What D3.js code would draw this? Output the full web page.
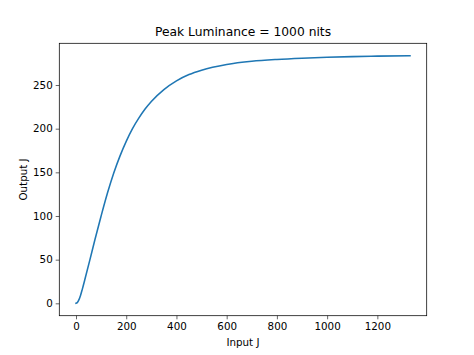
<!DOCTYPE html>
<html>
<head>
<meta charset="utf-8">
<script src="https://cdn.jsdelivr.net/npm/d3@7/dist/d3.min.js"></script>
<style>
  html, body { margin: 0; padding: 0; background: #fff; }
  svg { display: block; font-family: "DejaVu Sans", sans-serif; }
</style>
</head>
<body>
<script>
const title = "Peak Luminance = 1000 nits";
const xLabel = "Input J";
const yLabel = "Output J";
const inputJ  = [0, 5, 10, 18, 25, 35, 55, 75, 100, 125, 150, 175, 200, 225, 250, 275, 300, 350, 400, 450, 500, 600, 700, 800, 900, 1000, 1100, 1200, 1330];
const outputJ = [0, 0.8, 3, 9, 16, 27, 49.5, 72.5, 100, 126, 149, 168.6, 185.5, 200, 212, 222.5, 231.2, 244.8, 254.8, 262, 267, 273.5, 277.2, 279.3, 280.7, 281.7, 282.5, 283.1, 283.6];
const xTicks = [0, 200, 400, 600, 800, 1000, 1200];
const yTicks = [0, 50, 100, 150, 200, 250];

const W = 474, H = 355;
const m = {left: 59.3, right: 474 - 426.7, top: 43.3, bottom: 355 - 315.7};

const svg = d3.select("body").append("svg").attr("width", W).attr("height", H);

const xMin = d3.min(inputJ), xMax = d3.max(inputJ);
const yMin = d3.min(outputJ), yMax = d3.max(outputJ);
const xPad = (xMax - xMin) * 0.05, yPad = (yMax - yMin) * 0.05;

const x = d3.scaleLinear().domain([xMin - xPad, xMax + xPad]).range([m.left, W - m.right]);
const y = d3.scaleLinear().domain([yMin - yPad, yMax + yPad]).range([H - m.bottom, m.top]);

const pts = inputJ.map((v, i) => [v, outputJ[i]]);
const line = d3.line().x(d => x(d[0])).y(d => y(d[1])).curve(d3.curveMonotoneX);

svg.append("path").datum(pts)
  .attr("d", line)
  .attr("fill", "none")
  .attr("stroke", "#1f77b4")
  .attr("stroke-width", 1.55)
  .attr("stroke-linecap", "square");

const xAxis = d3.axisBottom(x).tickValues(xTicks).tickSize(3.6).tickPadding(3).tickFormat(d3.format("d"));
const yAxis = d3.axisLeft(y).tickValues(yTicks).tickSize(3.6).tickPadding(3).tickFormat(d3.format("d"));

const gx = svg.append("g").attr("transform", `translate(0,${H - m.bottom})`).call(xAxis);
const gy = svg.append("g").attr("transform", `translate(${m.left},0)`).call(yAxis);
[gx, gy].forEach(g => {
  g.select(".domain").remove();
  g.selectAll("line").attr("stroke", "#000").attr("stroke-width", 0.6);
  g.selectAll("text").attr("font-family", "DejaVu Sans, sans-serif").attr("font-size", 10.3).attr("fill", "#000");
});

// frame
svg.append("rect")
  .attr("x", m.left).attr("y", m.top)
  .attr("width", W - m.right - m.left).attr("height", H - m.bottom - m.top)
  .attr("fill", "none").attr("stroke", "#000").attr("stroke-width", 0.75);

svg.append("text")
  .attr("x", (m.left + W - m.right) / 2).attr("y", 35.5)
  .attr("text-anchor", "middle").attr("font-size", 12.3).attr("fill", "#000")
  .text(title);

svg.append("text")
  .attr("x", (m.left + W - m.right) / 2).attr("y", 345.5)
  .attr("text-anchor", "middle").attr("font-size", 10.3).attr("fill", "#000")
  .text(xLabel);

svg.append("text")
  .attr("transform", `translate(26.5,${(m.top + H - m.bottom) / 2}) rotate(-90)`)
  .attr("text-anchor", "middle").attr("font-size", 10.3).attr("fill", "#000")
  .text(yLabel);
</script>
</body>
</html>
